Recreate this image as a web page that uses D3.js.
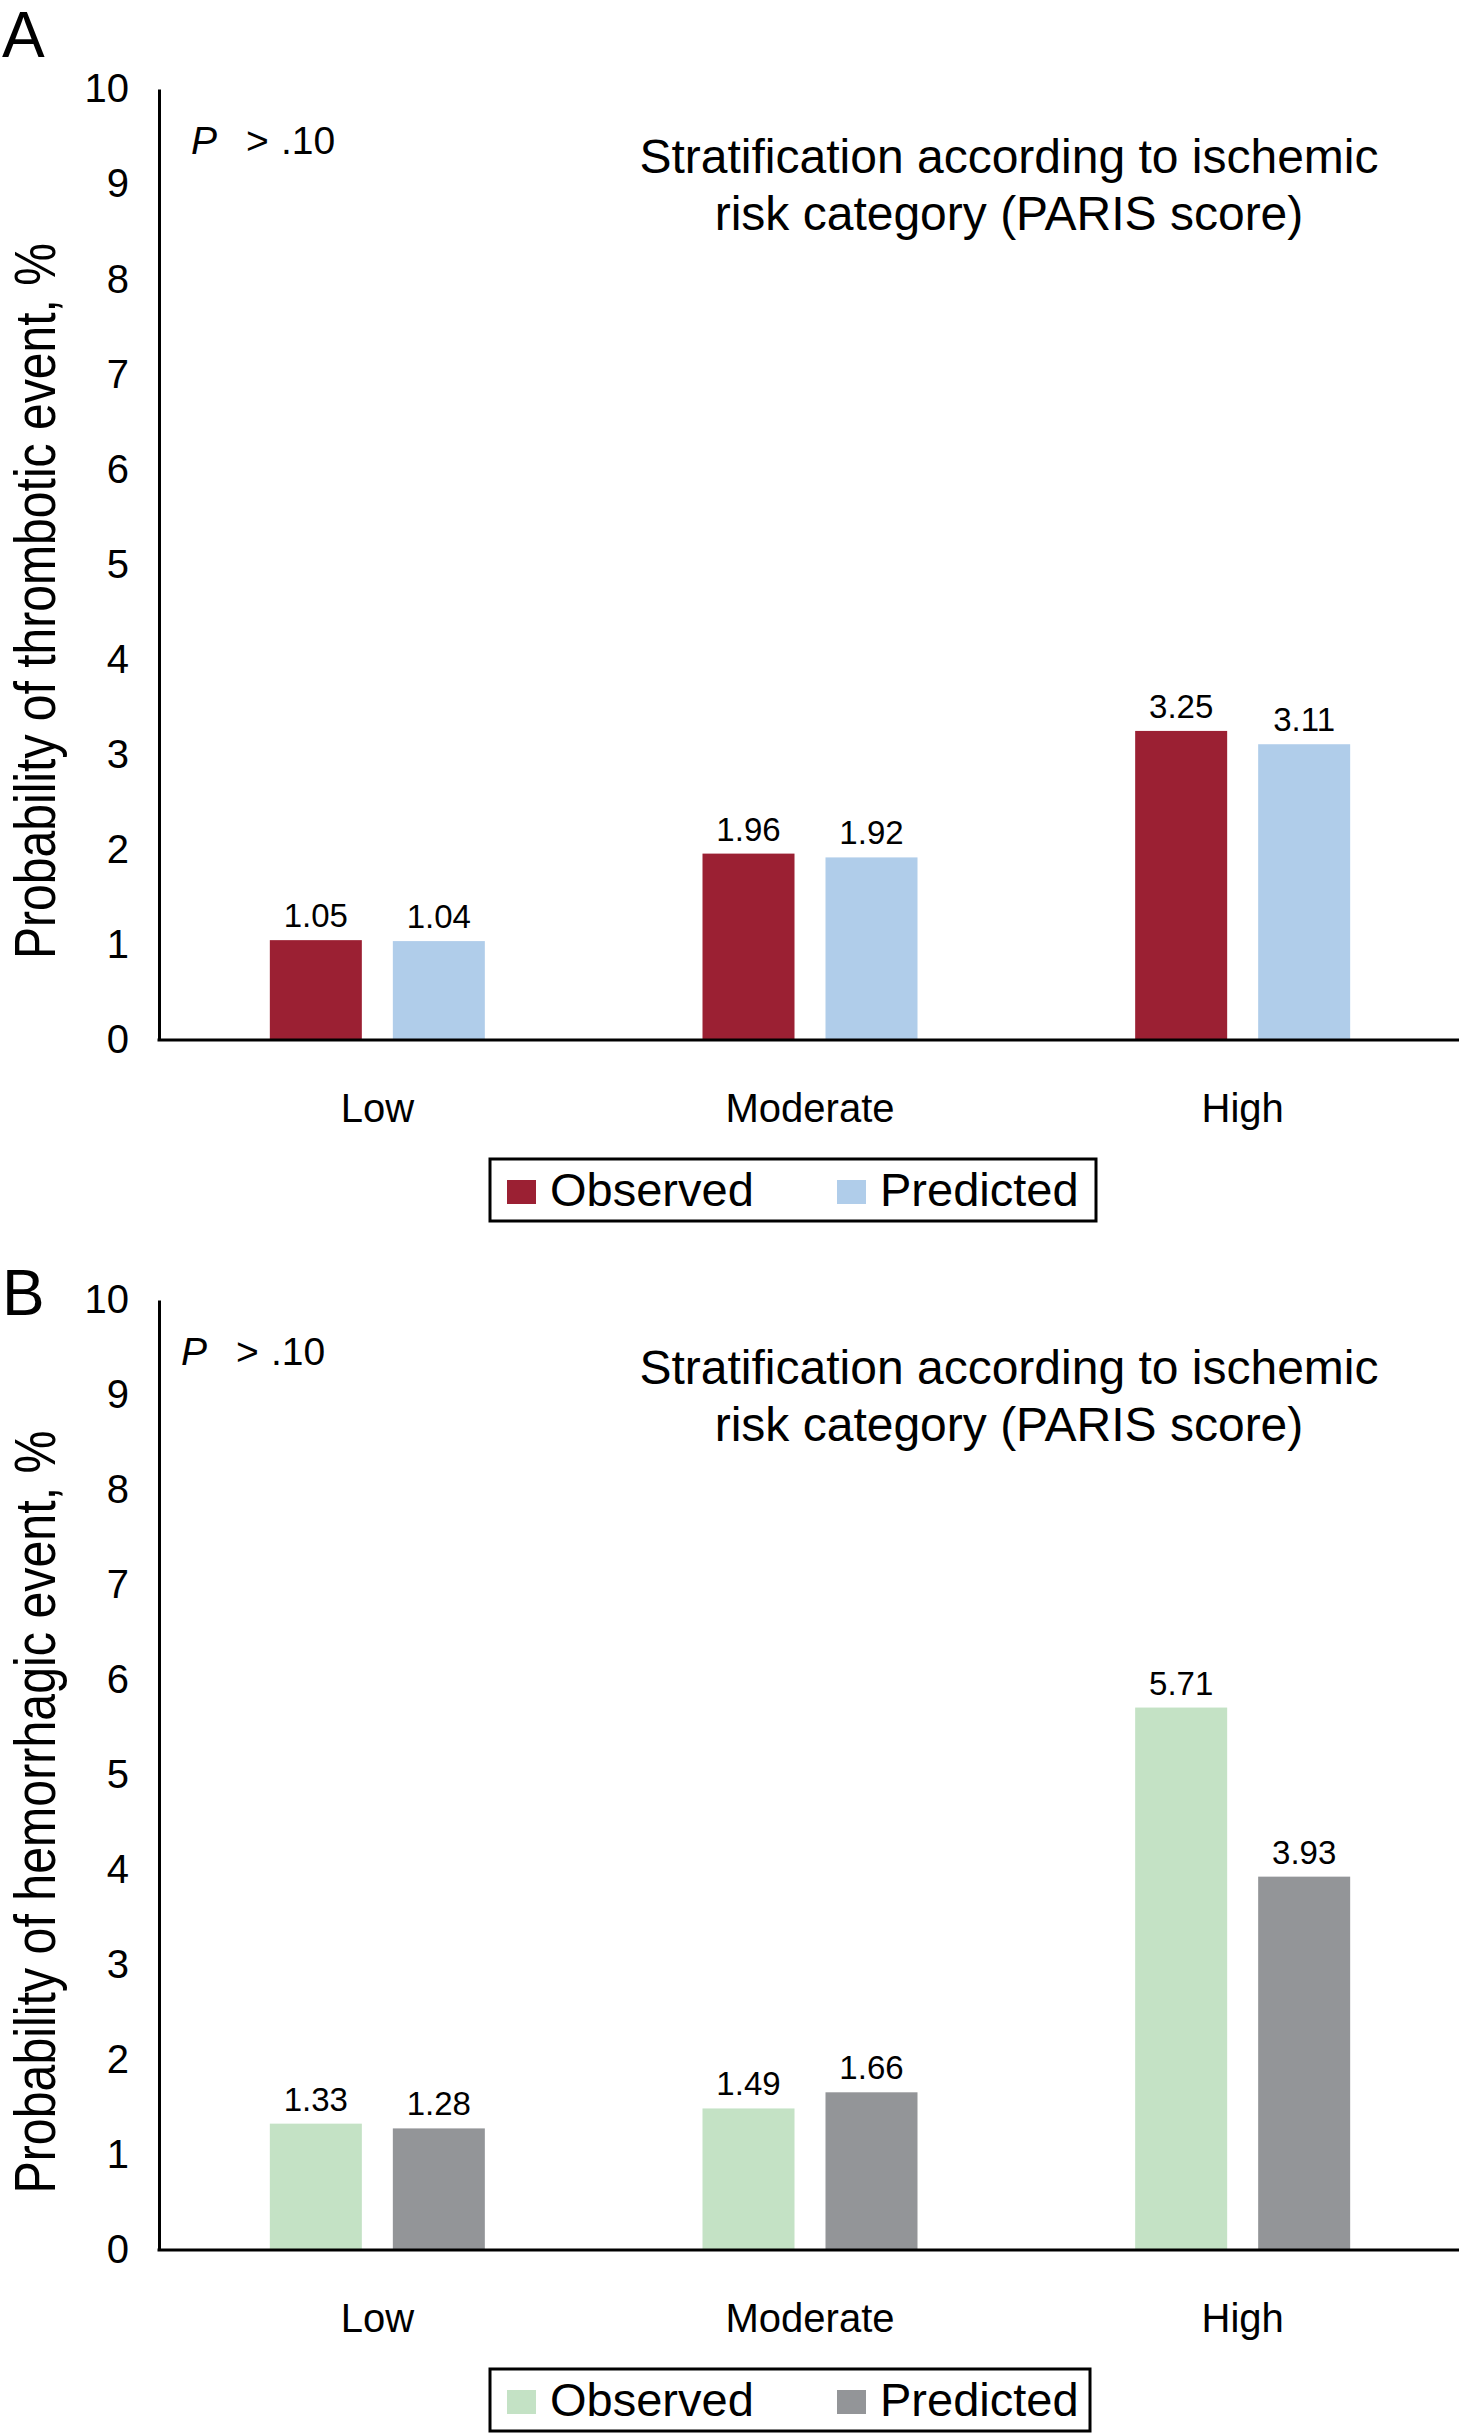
<!DOCTYPE html>
<html>
<head>
<meta charset="utf-8">
<script src="https://cdn.jsdelivr.net/npm/d3@7"></script>
<style>
  body { margin: 0; background: #fff; }
  text { font-family: "Liberation Sans", Arial, sans-serif; fill: #000; }
</style>
</head>
<body>
<svg id="chart"></svg>
<script>
// data
const categories = ['Low', 'Moderate', 'High'];
const seriesNames = ['Observed', 'Predicted'];
const yTicks = [0, 1, 2, 3, 4, 5, 6, 7, 8, 9, 10];

const thromboticObserved = [1.05, 1.96, 3.25];
const thromboticPredicted = [1.04, 1.92, 3.11];
const hemorrhagicObserved = [1.33, 1.49, 5.71];
const hemorrhagicPredicted = [1.28, 1.66, 3.93];

const panelLetters = ['A', 'B'];
const yTitles = ['Probability of thrombotic event, %', 'Probability of hemorrhagic event, %'];
const titleLines = ['Stratification according to ischemic', 'risk category (PARIS score)'];
const pLabel = ['P', '>', '.10'];

const colorsA = ['#9b2033', '#b0cdea'];
const colorsB = ['#c4e2c5', '#939598'];

const width = 1459, height = 2435;

const panels = [
  { letter: panelLetters[0], yTitle: yTitles[0], values: [thromboticObserved, thromboticPredicted],
    colors: colorsA, top: 89, base: 1040, pX: 191, letterY: 57, yTitleLen: 716, legendW: 606 },
  { letter: panelLetters[1], yTitle: yTitles[1], values: [hemorrhagicObserved, hemorrhagicPredicted],
    colors: colorsB, top: 1300, base: 2250, pX: 181, letterY: 1315, yTitleLen: 763, legendW: 600 }
];

const svg = d3.select('#chart')
  .attr('width', width)
  .attr('height', height);

const axisX = 159;

panels.forEach(p => {
  const g = svg.append('g');

  const x0 = d3.scaleBand()
    .domain(categories)
    .range([161, width])
    .paddingInner(0)
    .paddingOuter(0);

  const bw = x0.bandwidth();
  const x1 = d3.scaleBand()
    .domain(seriesNames)
    .range([bw / 2 - 107.5, bw / 2 + 107.5])
    .paddingInner(0.252)
    .paddingOuter(0);

  const y = d3.scaleLinear()
    .domain([0, 10])
    .range([p.base, p.top]);

  const color = d3.scaleOrdinal().domain(seriesNames).range(p.colors);

  const rows = categories.map((c, i) => ({
    cat: c,
    vals: seriesNames.map((s, j) => ({ series: s, value: p.values[j][i] }))
  }));

  // bars
  const grp = g.selectAll('.grp')
    .data(rows)
    .enter().append('g')
    .attr('transform', d => `translate(${x0(d.cat)},0)`);

  grp.selectAll('rect')
    .data(d => d.vals)
    .enter().append('rect')
    .attr('x', d => x1(d.series))
    .attr('width', x1.bandwidth())
    .attr('y', d => y(d.value))
    .attr('height', d => y(0) - y(d.value))
    .attr('fill', d => color(d.series));

  grp.selectAll('.val')
    .data(d => d.vals)
    .enter().append('text')
    .attr('x', d => x1(d.series) + x1.bandwidth() / 2)
    .attr('y', d => y(d.value) - 13)
    .attr('text-anchor', 'middle')
    .attr('font-size', 33)
    .text(d => d.value.toFixed(2));

  // y axis
  const yAxis = g.append('g')
    .attr('transform', `translate(${axisX},0)`)
    .call(d3.axisLeft(y).tickValues(yTicks).tickSize(0).tickSizeOuter(0).tickPadding(30));
  yAxis.select('.domain').attr('stroke', '#000').attr('stroke-width', 3);
  yAxis.selectAll('.tick text')
    .attr('font-size', 40)
    .attr('font-family', '"Liberation Sans", Arial, sans-serif')
    .attr('fill', '#000');

  // x axis
  const xAxis = g.append('g')
    .attr('transform', `translate(0,${p.base})`)
    .call(d3.axisBottom(x0).tickSize(0).tickSizeOuter(0).tickPadding(54));
  xAxis.select('.domain').remove();
  xAxis.selectAll('.tick text')
    .attr('font-size', 40)
    .attr('font-family', '"Liberation Sans", Arial, sans-serif')
    .attr('fill', '#000');

  g.append('line')
    .attr('x1', axisX - 1.5).attr('x2', width)
    .attr('y1', p.base).attr('y2', p.base)
    .attr('stroke', '#000').attr('stroke-width', 3);

  // y title (stretched like the original)
  g.append('text')
    .attr('transform', `translate(55,${p.top + 512}) rotate(-90)`)
    .attr('text-anchor', 'middle')
    .attr('font-size', 58)
    .attr('textLength', p.yTitleLen)
    .attr('lengthAdjust', 'spacingAndGlyphs')
    .text(p.yTitle);

  // panel letter
  g.append('text')
    .attr('x', 2)
    .attr('y', p.letterY)
    .attr('font-size', 64)
    .text(p.letter);

  // P value
  const pt = g.append('text')
    .attr('y', p.top + 65)
    .attr('font-size', 39);
  pt.append('tspan').attr('x', p.pX).attr('font-style', 'italic').text(pLabel[0]);
  pt.append('tspan').attr('x', p.pX + 55).text(pLabel[1]);
  pt.append('tspan').attr('x', p.pX + 90).text(pLabel[2]);

  // title
  g.append('text')
    .attr('text-anchor', 'middle')
    .attr('font-size', 48)
    .selectAll('tspan')
    .data(titleLines)
    .enter().append('tspan')
    .attr('x', 1009)
    .attr('y', (d, i) => p.top + 84 + i * 57)
    .text(d => d);

  // legend
  const lg = g.append('g').attr('transform', `translate(490,${p.base + 119})`);
  lg.append('rect')
    .attr('width', p.legendW)
    .attr('height', 62)
    .attr('fill', 'none')
    .attr('stroke', '#000')
    .attr('stroke-width', 3);

  const legendX = d3.scaleOrdinal().domain(seriesNames).range([17, 347]);
  const item = lg.selectAll('.item')
    .data(seriesNames)
    .enter().append('g')
    .attr('transform', d => `translate(${legendX(d)},0)`);
  item.append('rect')
    .attr('y', 21)
    .attr('width', 29)
    .attr('height', 24)
    .attr('fill', d => color(d));
  item.append('text')
    .attr('x', 43)
    .attr('y', 47)
    .attr('font-size', 47)
    .text(d => d);
});
</script>
</body>
</html>
